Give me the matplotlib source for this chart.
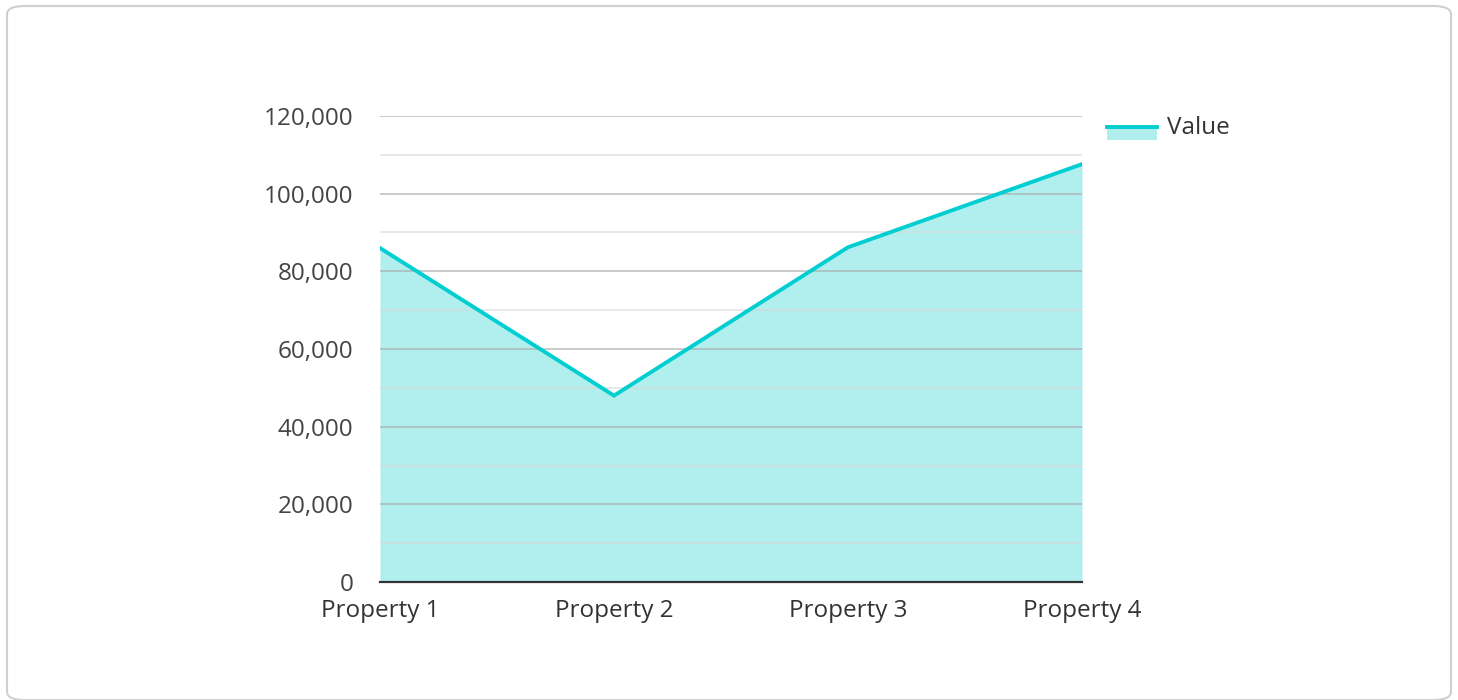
import matplotlib.pyplot as plt
from matplotlib.patches import FancyBboxPatch, Rectangle
from matplotlib.lines import Line2D
from matplotlib.ticker import FuncFormatter, MultipleLocator

categories = ['Property 1', 'Property 2', 'Property 3', 'Property 4']
values = [86000, 48000, 86200, 107600]
series_name = 'Value'

line_color = '#00ced1'
fill_color = '#b1efee'

plt.rcParams['font.family'] = ['Open Sans', 'DejaVu Sans']

fig = plt.figure(figsize=(14.58, 7), dpi=100)

# card border
fig.add_artist(FancyBboxPatch((7 / 1458, 1 - 700 / 700), 1444 / 1458, 694 / 700,
                              boxstyle='round,pad=0,rounding_size=0.012',
                              transform=fig.transFigure, facecolor='white',
                              edgecolor='#d0d0d0', linewidth=1.5, zorder=0))

ax = fig.add_axes([380 / 1458, 118 / 700, 702 / 1458, 466 / 700])
ax.set_facecolor('none')

x = range(len(categories))
ax.fill_between(x, values, 0, color=fill_color, linewidth=0, zorder=1)
ax.plot(x, values, color=line_color, linewidth=2.8, zorder=3,
        solid_joinstyle='miter')

ax.set_xlim(0, len(categories) - 1)
ax.set_ylim(0, 120000)
ax.yaxis.set_major_locator(MultipleLocator(20000))
ax.yaxis.set_minor_locator(MultipleLocator(10000))
ax.yaxis.set_major_formatter(FuncFormatter(lambda v, p: f'{int(v):,}'))
ax.grid(axis='y', which='major', color='#a8a8a8', alpha=0.7, linewidth=1.2, zorder=2)
ax.grid(axis='y', which='minor', color='#d8d8d8', alpha=0.7, linewidth=1.2, zorder=2)
ax.set_axisbelow(False)

ax.set_xticks(list(x))
ax.set_xticklabels(categories)

for s in ['top', 'right', 'left']:
    ax.spines[s].set_visible(False)
ax.spines['bottom'].set_color('#333333')
ax.spines['bottom'].set_linewidth(1.6)
ax.spines['bottom'].set_zorder(4)

ax.tick_params(axis='x', length=0, pad=12, labelsize=17.5, labelcolor='#333333')
ax.tick_params(axis='y', which='both', length=0, pad=19, labelsize=17.5,
               labelcolor='#444444')

# legend
fig.add_artist(Rectangle((1107 / 1458, 1 - 140 / 700), 50 / 1458, 13 / 700,
                         transform=fig.transFigure, facecolor=fill_color,
                         edgecolor='none'))
fig.add_artist(Line2D([1107 / 1458, 1157 / 1458], [1 - 127 / 700, 1 - 127 / 700],
                      transform=fig.transFigure, color=line_color, linewidth=2.8))
fig.text(1167 / 1458, 1 - 128 / 700, series_name, fontsize=17.5, color='#333333',
         va='center', ha='left')

fig.savefig('out.png', dpi=100)
